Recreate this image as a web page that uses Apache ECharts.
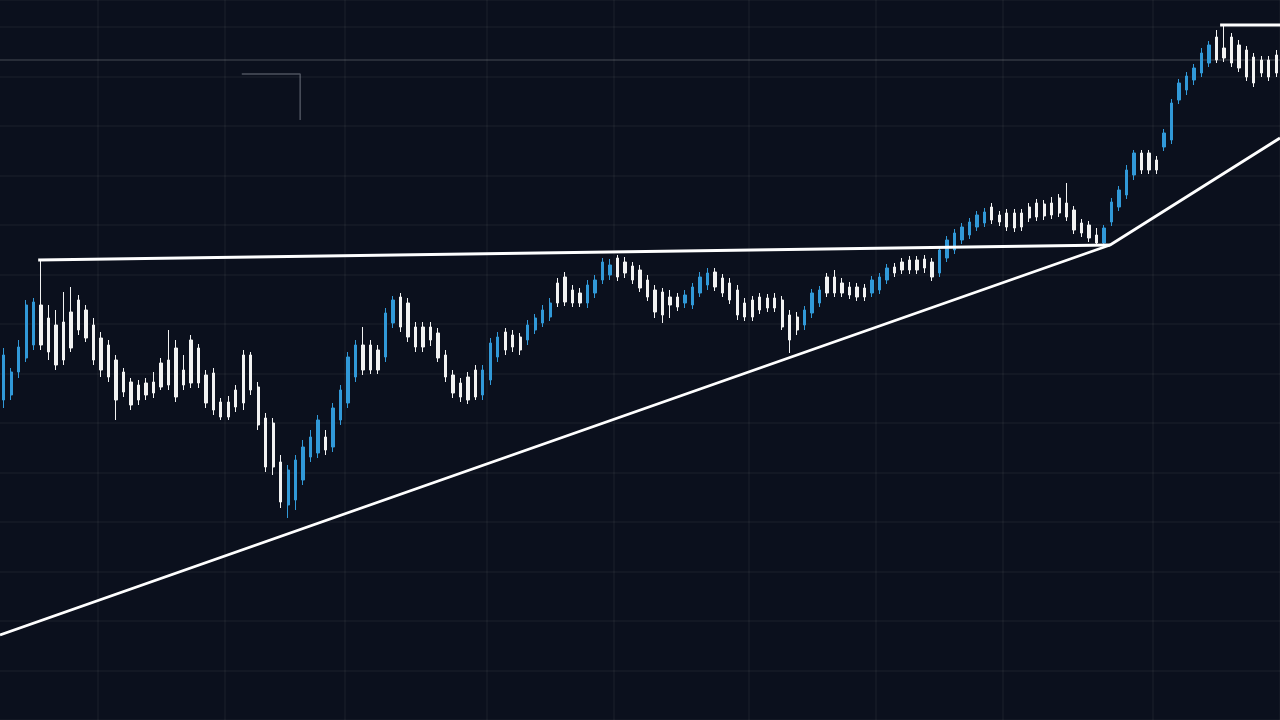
<!DOCTYPE html>
<html>
<head>
<meta charset="utf-8">
<script src="https://cdn.jsdelivr.net/npm/echarts@6/dist/echarts.min.js"></script>
<style>
html,body{margin:0;padding:0;background:#0b101d;}
#chart{width:1280px;height:720px;}
</style>
</head>
<body>
<div id="chart"></div>
<script>
// OHLC values (price units), one entry per candle
const openVals = [320,325,348,362,375,415,402,395,398,408,
420,410,395,382,375,360,348,338,335,337,
338,357,360,372,350,380,372,345,347,318,
318,330,365,365,333,302,297,258,215,220,
240,263,267,283,273,300,317,343,375,375,
370,363,397,423,417,393,393,393,387,365,
345,337,343,350,325,340,363,388,385,383,
380,390,397,403,437,443,430,427,417,427,
440,445,462,458,454,450,440,430,428,423,
423,417,415,427,435,448,442,437,430,417,
420,423,422,422,420,405,403,395,407,417,
443,443,437,433,433,432,427,430,440,453,
458,460,460,461,458,447,462,470,480,485,
493,497,513,505,507,507,507,513,517,516,
517,522,517,510,497,495,485,477,498,513,
525,545,567,567,560,573,580,620,630,640,
647,657,683,672,683,675,670,663,660,660,665];
const closeVals = [365,348,373,415,418,375,368,355,360,372,
390,382,360,350,343,320,328,315,320,325,
327,333,335,323,335,337,337,317,310,303,
303,313,317,330,295,253,253,218,250,260,
273,283,300,270,312,330,363,375,350,350,
350,407,420,393,383,373,373,380,362,343,
327,323,320,323,350,377,383,370,373,370,
395,402,410,417,417,418,417,417,435,440,
458,455,443,447,440,432,423,408,405,415,
413,425,433,443,447,433,427,420,405,403,
403,410,412,412,393,380,390,410,427,430,
427,427,427,425,423,423,440,443,452,447,
450,450,450,452,443,470,480,487,493,498,
505,508,500,498,493,492,493,502,503,504,
505,507,503,490,487,482,477,492,518,530,
550,567,550,550,550,587,617,637,644,652,
667,675,660,662,657,652,643,637,647,643,647];
const lowVals = [312,320,342,358,370,370,360,350,355,368,
385,378,355,343,338,300,323,310,315,320,
322,330,330,318,330,332,332,312,305,300,
300,308,310,325,290,248,245,212,202,210,
235,258,262,265,268,295,312,338,345,346,
346,358,392,388,378,368,368,374,358,338,
322,318,316,320,320,335,358,365,368,365,
375,386,393,399,413,414,413,413,412,422,
436,440,439,442,436,428,419,402,397,402,
409,412,411,423,430,429,423,416,400,399,
399,406,408,408,390,367,385,390,402,413,
423,423,423,421,419,419,423,426,436,443,
446,446,446,447,439,443,458,466,476,481,
489,493,496,494,489,488,489,498,499,500,
501,503,499,486,483,478,474,473,494,509,
521,540,546,546,546,569,576,616,625,635,
643,653,657,658,653,648,639,633,643,639,643];
const highVals = [372,352,380,420,422,460,415,410,428,433,
425,415,402,388,380,365,352,342,340,342,
348,362,390,380,365,385,376,350,352,322,
324,335,370,368,338,307,302,265,255,265,
280,290,305,290,317,335,368,380,393,380,
375,412,424,427,422,398,398,398,392,370,
350,342,348,355,355,382,388,392,390,387,
400,406,415,422,442,448,435,432,440,445,
462,461,465,463,458,455,445,435,432,430,
427,430,437,448,452,452,446,442,435,422,
424,427,426,427,424,410,408,414,431,434,
447,450,442,438,437,436,444,447,456,457,
462,464,464,465,462,474,484,491,497,502,
509,512,517,509,511,511,511,517,521,520,
523,526,537,514,501,499,492,495,522,534,
555,570,570,570,564,591,621,641,648,656,
672,679,690,695,687,680,674,667,664,664,670];
const categories = openVals.map((_, i) => String(i + 1));

// Drawn lines: [candle index, price]
const supportLine = [[-0.5, 85], [147.8, 475], [170.5, 582]];
const resistanceLine = [[4.6, 460], [147.8, 475]];
const topLine = [[162.5, 695], [170.5, 695]];
const markerLine = [[31.8, 646], [39.6, 646], [39.6, 600]];
const priceLevel = 660;
// category boundaries where vertical grid lines fall
const vGridIdx = [13, 30, 46, 65, 82, 100, 117, 134, 154];

const ohlc = openVals.map((o, i) => [o, closeVals[i], lowVals[i], highVals[i]]);
const N = openVals.length;

const chart = echarts.init(document.getElementById('chart'));
const gridColor = 'rgba(255,255,255,0.05)';
chart.setOption({
  backgroundColor: '#0b101d',
  animation: false,
  grid: {left: 0, right: 0, top: 0, bottom: 0},
  xAxis: [
    {
      type: 'category', data: categories, boundaryGap: true,
      axisLine: {show: false}, axisTick: {show: false}, axisLabel: {show: false},
      splitLine: {show: true, interval: (idx) => vGridIdx.includes(idx), lineStyle: {color: gridColor, width: 1.5}}
    },
    {
      type: 'value', min: -0.5, max: N - 0.5, show: false, splitLine: {show: false}
    }
  ],
  yAxis: {
    type: 'value', min: 0, max: 720, interval: 49.5,
    axisLine: {show: false}, axisTick: {show: false}, axisLabel: {show: false},
    splitLine: {show: true, lineStyle: {color: gridColor, width: 1.5}}
  },
  series: [
    {
      type: 'line', xAxisIndex: 1, symbol: 'none', silent: true,
      data: [[-0.5, priceLevel], [N - 0.5, priceLevel]],
      lineStyle: {color: 'rgba(255,255,255,0.12)', width: 2}, z: 1
    },
    {
      type: 'line', xAxisIndex: 1, symbol: 'none', silent: true,
      data: markerLine,
      lineStyle: {color: 'rgba(200,205,215,0.35)', width: 1.5}, z: 1
    },
    {
      type: 'candlestick', xAxisIndex: 0, data: ohlc, barWidth: '38%',
      itemStyle: {
        color: '#3199d8', color0: '#f2f2f2',
        borderColor: '#3199d8', borderColor0: '#f2f2f2', borderWidth: 1
      },
      z: 3
    },
    {
      type: 'line', xAxisIndex: 1, symbol: 'none', silent: true,
      data: supportLine, lineStyle: {color: '#ffffff', width: 2.8}, z: 4
    },
    {
      type: 'line', xAxisIndex: 1, symbol: 'none', silent: true,
      data: resistanceLine, lineStyle: {color: '#ffffff', width: 2.8}, z: 4
    },
    {
      type: 'line', xAxisIndex: 1, symbol: 'none', silent: true,
      data: topLine, lineStyle: {color: '#ffffff', width: 2.8}, z: 4
    }
  ]
});
</script>
</body>
</html>
